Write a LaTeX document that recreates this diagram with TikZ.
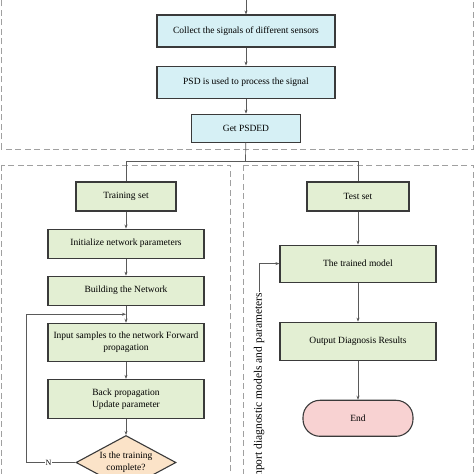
\documentclass[tikz,border=0pt]{standalone}
\usepackage{fontspec}
\setmainfont{Liberation Serif}
\usepackage{xcolor}
\usetikzlibrary{positioning, arrows.meta, shapes.geometric}

\definecolor{cyanbox}{HTML}{D6F0F5}
\definecolor{greenbox}{HTML}{E3EFD3}
\definecolor{peachbox}{HTML}{FBE3C8}
\definecolor{pinkbox}{HTML}{F8D2D2}
\definecolor{edgegray}{HTML}{3A3A3A}
\definecolor{linegray}{HTML}{5A5A5A}
\definecolor{dashgray}{HTML}{A0A0A0}

\begin{document}
\begin{tikzpicture}[x=1pt, y=1pt, >={Stealth[length=4pt,width=3pt]},
    box/.style={draw=edgegray, line width=1.1pt, align=center, inner sep=1pt,
        font=\fontsize{9.5}{12}\selectfont},
    pre/.style={box, fill=cyanbox, minimum width=178pt, minimum height=32pt},
    stage/.style={box, fill=greenbox, minimum width=156pt, minimum height=29pt},
    decide/.style={box, diamond, aspect=1.85, fill=peachbox, minimum width=100pt, minimum height=54pt, inner sep=0pt},
    stop/.style={box, fill=pinkbox, rounded corners=17pt, minimum width=110pt, minimum height=36pt},
    flow/.style={->, draw=linegray, line width=0.7pt},
    link/.style={draw=linegray, line width=0.7pt},
    frame/.style={draw=dashgray, line width=0.9pt, dash pattern=on 6pt off 3.5pt}]
    \useasboundingbox (0,0) rectangle (474,474);

    % dashed frames
    \draw[frame] (1,325) rectangle (473,490);
    \draw[frame] (1,309) rectangle (230,-10);
    \draw[frame] (243,309) rectangle (473,-10);

    % preprocessing
    \node[pre] (collect) at (246,443) {Collect the signals of different sensors};
    \node[pre] (psd) [below=18pt of collect] {PSD is used to process the signal};
    \node[pre, minimum width=109pt, minimum height=28pt] (psded) [below=15pt of psd] {Get PSDED};

    % training branch
    \node[stage, minimum width=100pt] (train) at (126,277.5) {Training set};
    \node[stage] (init) [below=17pt of train] {Initialize network parameters};
    \node[stage] (build) [below=17pt of init] {Building the Network};
    \node[stage, minimum height=38pt] (input) [below=17pt of build] {Input samples to the network Forward\\propagation};
    \node[stage, minimum height=39pt] (back) [below=17pt of input] {Back propagation\\Update parameter};
    \node[decide] (check) [below=16pt of back] {Is the training\\complete?};

    % test branch
    \node[stage, minimum width=102pt] (test) at (358,277.5) {Test set};
    \node[stage, minimum height=37pt] (trained) [below=33pt of test] {The trained model};
    \node[stage, minimum height=38pt] (output) [below=39pt of trained] {Output Diagnosis Results};
    \node[stop] (finish) [below=39pt of output] {End};

    \node[rotate=90, anchor=east, inner sep=1pt, font=\fontsize{11.5}{13}\selectfont] (import) at (259,182) {Import diagnostic models and parameters};

    % connectors
    \coordinate (entry) at (246,480);
    \coordinate (split) at (245.5,313);
    \path[flow] (entry) edge (collect)
          (collect) edge (psd)
          (psd) edge (psded)
          (train) edge (init)
          (init) edge (build)
          (build) edge (input)
          (input) edge (back)
          (back) edge (check)
          (test) edge (trained)
          (trained) edge (output)
          (output) edge (finish);
    \draw[link] (psded) -- (split);
    \draw[link] (split) -| (train);
    \draw[link] (split) -| (test);
    \draw[flow] (check.west) -- node[pos=0.55, fill=white, inner sep=1pt, font=\fontsize{8}{9}\selectfont] {N} ++(-49,0) |- ([yshift=-8.5pt]build.south);
    \draw[flow] (import.east) |- (trained.west);
\end{tikzpicture}
\end{document}
